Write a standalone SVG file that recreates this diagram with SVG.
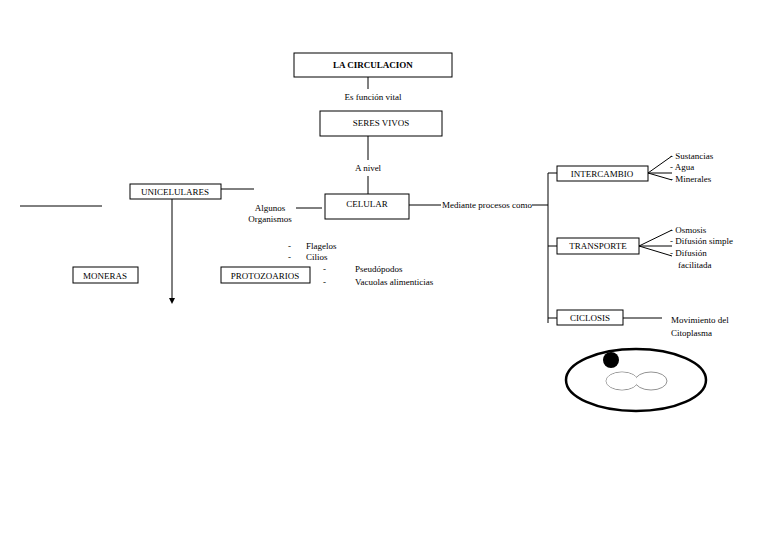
<svg xmlns="http://www.w3.org/2000/svg" width="768" height="543" viewBox="0 0 768 543">
<style>
text{font-family:"Liberation Serif",serif;fill:#000;font-size:9px}
.b{fill:#fff;stroke:#000;stroke-width:1}
.l{stroke:#000;stroke-width:1;fill:none}
.c{text-anchor:middle}
</style>
<defs><marker id="a" markerWidth="6" markerHeight="6" refX="3" refY="5" orient="auto" markerUnits="userSpaceOnUse"><path d="M0,0 L6,0 L3,6 z" fill="#000" transform="rotate(-90 3 3)"/></marker></defs>
<rect width="768" height="543" fill="#fff"/>
<g id="connectors">
<path class="l" d="M368,77V89M368,136V160M368,176V194M296,208H322M221,189H254M20,206H102M409,205H441M532,205H548M548,173V323M548,173H557M548,246H557M548,318H557M648,173L672,156M648,173H672M648,173L672,180M639,246L672,230M639,246H672M639,246L672,256M623,318H662"/>
<path class="l" d="M172,199V300"/>
<path d="M169,298L175,298L172,304z" fill="#000"/>
</g>
<g id="n1"><rect class="b" x="294" y="53" width="158" height="24"/><text class="c" x="373" y="68" font-size="12" font-weight="bold">LA CIRCULACION</text></g>
<text class="c" x="373" y="100">Es función vital</text>
<g id="n2"><rect class="b" x="320" y="111" width="122" height="25"/><text class="c" x="381" y="126" font-size="10">SERES VIVOS</text></g>
<text class="c" x="368" y="171" font-size="10">A nivel</text>
<g id="n3"><rect class="b" x="325" y="194" width="84" height="25"/><text class="c" x="367" y="207">CELULAR</text></g>
<text class="c" x="270" y="211" font-size="8">Algunos</text>
<text class="c" x="270" y="222" font-size="8">Organismos</text>
<g id="n4"><rect class="b" x="130" y="184" width="91" height="15"/><text class="c" x="175" y="195">UNICELULARES</text></g>
<g id="n5"><rect class="b" x="73" y="267" width="65" height="16"/><text class="c" x="105" y="279">MONERAS</text></g>
<g id="n6"><rect class="b" x="221" y="267" width="89" height="16"/><text class="c" x="265" y="279">PROTOZOARIOS</text></g>
<text x="288" y="249" font-size="8">-</text><text x="306" y="249" font-size="8">Flagelos</text>
<text x="288" y="260" font-size="8">-</text><text x="306" y="260" font-size="8">Cilios</text>
<text x="323" y="272" font-size="8">-</text><text x="355" y="272" font-size="8">Pseudópodos</text>
<text x="323" y="285" font-size="8">-</text><text x="355" y="285" font-size="8">Vacuolas alimenticias</text>
<text x="442" y="208" font-size="8">Mediante procesos como</text>
<g id="n7"><rect class="b" x="557" y="166" width="91" height="15"/><text class="c" x="602" y="177">INTERCAMBIO</text></g>
<g id="n8"><rect class="b" x="557" y="238" width="82" height="16"/><text class="c" x="598" y="249">TRANSPORTE</text></g>
<g id="n9"><rect class="b" x="557" y="310" width="66" height="15"/><text class="c" x="590" y="321">CICLOSIS</text></g>
<g font-size="8">
<text x="670" y="159" font-size="8">- Sustancias</text>
<text x="670" y="170" font-size="8">- Agua</text>
<text x="670" y="182" font-size="8">- Minerales</text>
<text x="670" y="233" font-size="8">- Osmosis</text>
<text x="670" y="244" font-size="8">- Difusión simple</text>
<text x="670" y="256" font-size="8">- Difusión</text>
<text x="678" y="268" font-size="8">facilitada</text>
<text x="671" y="323" font-size="8">Movimiento del</text>
<text x="671" y="336" font-size="8">Citoplasma</text>
</g>
<g id="cell">
<ellipse cx="636" cy="380" rx="70" ry="31" fill="#fff" stroke="#000" stroke-width="2.5"/>
<circle cx="611" cy="360" r="8" fill="#000"/>
<ellipse cx="622" cy="381" rx="16" ry="9" fill="#fff" stroke="#777" stroke-width="0.8"/>
<ellipse cx="651" cy="381" rx="16" ry="9" fill="#fff" stroke="#777" stroke-width="0.8"/>
<ellipse cx="622" cy="381" rx="15.5" ry="8.5" fill="#fff"/>
</g>
</svg>
